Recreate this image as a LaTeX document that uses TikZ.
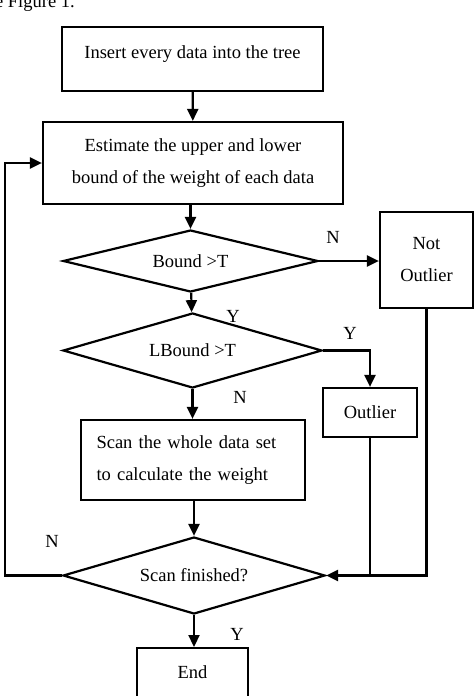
\documentclass[tikz,border=0pt]{standalone}
\usepackage{fontspec}
\setmainfont{Liberation Serif}
\usetikzlibrary{positioning,shapes.geometric,arrows.meta}

\begin{document}
\begin{tikzpicture}
[x=1pt, y=-1pt, line width=2.2pt,
 every node/.style={font=\fontsize{18.5}{32}\selectfont},
 stepbox/.style={draw, shape=rectangle, inner sep=0pt, align=center},
 test/.style={draw, shape=diamond, aspect=4, inner sep=0pt},
 flow/.style={-{Triangle[length=12pt,width=11pt]}},
 tag/.style={inner sep=0pt}]
\useasboundingbox (0,0) rectangle (474,696);
\node [tag, anchor=base west] (caption) at (-6,7) {e Figure 1.};
\node [stepbox, minimum width=261pt, text height=31pt, text depth=33pt] (insert) at (192.5,26) [anchor=north] {Insert every data into the tree};
\node [stepbox, minimum width=300pt, minimum height=82pt] (estimate) at (193,163) {Estimate the upper and lower\\bound of the weight of each data};
\node [test, minimum width=255pt, minimum height=62pt] (ubound) at (190.5,261) {Bound >T};
\node [stepbox, minimum width=93pt, minimum height=96pt] (notout) at (426.5,260) {Not\\Outlier};
\node [test, minimum width=259pt, minimum height=75pt] (lbound) at (192.5,350.5) {LBound >T};
\node [stepbox, minimum width=94pt, minimum height=49pt] (outlier) at (370,412.5) {Outlier};
\node [stepbox, minimum width=224pt, minimum height=80pt, text width=193pt, align=left] (scan) at (193,460)
 {\makebox[193pt][s]{Scan the whole data set}\\to calculate the weight};
\node [test, minimum width=262pt, minimum height=77pt] (finished) at (194,575.5) {Scan finished?};
\node [stepbox, minimum width=111pt, text height=30pt, text depth=35pt] (end) at (192.5,647) [anchor=north] {End};
% branch labels
\node [tag] (n1) at (333,237) {N};
\node [tag] (y1) at (233,316) {Y};
\node [tag] (y2) at (350,333) {Y};
\node [tag] (n2) at (240,397) {N};
\node [tag] (n3) at (52,541) {N};
\node [tag] (y3) at (237,634) {Y};
\coordinate (back) at (5,575.5);
% connectors
\draw [flow] (insert) -- (estimate);
\draw [flow] (estimate.south -| ubound.north) -- (ubound);
\draw [flow] (ubound.east) -- (ubound.east -| notout.west);
\draw [flow] (ubound) -- (lbound);
\draw [flow] (lbound.east) -| (outlier.north);
\draw [flow] (lbound) -- (lbound.south |- scan.north);
\draw [flow] (scan.south -| finished.north) -- (finished);
\draw [flow] (finished.west) -- (back) |- (estimate.west);
\draw (outlier.south) -- (outlier.south |- finished.east);
\draw [flow] (notout.south) |- (finished.east);
\draw [flow] (finished) -- (finished.south |- end.north);
\end{tikzpicture}
\end{document}
